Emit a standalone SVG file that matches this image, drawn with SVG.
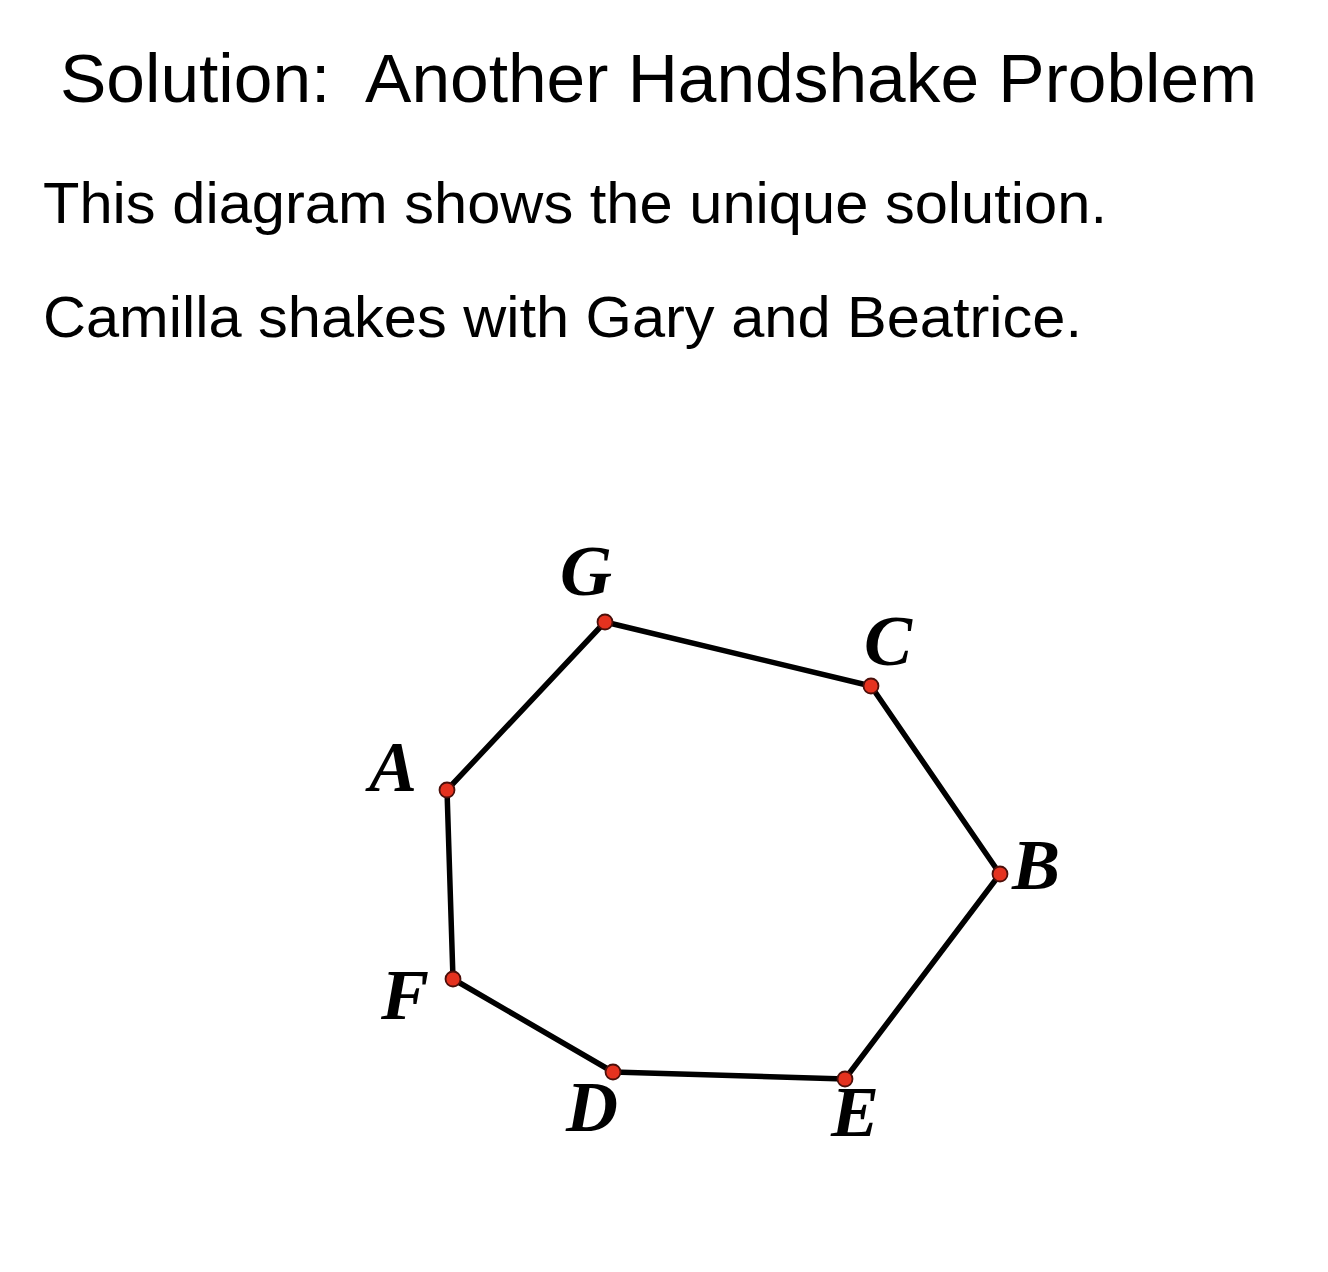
<svg xmlns="http://www.w3.org/2000/svg" width="1328" height="1272" viewBox="0 0 1328 1272">
<style>
.t{font-family:"Liberation Sans",Arial,sans-serif;fill:#000;white-space:pre}
.lbl{font-family:"Liberation Serif","Times New Roman",serif;font-weight:bold;font-style:italic;font-size:72px;fill:#000}
.edge{stroke:#000;stroke-width:5.5;stroke-linecap:round;fill:none}
.pt{fill:#e5321f;stroke:#4a0f0a;stroke-width:1.8}
</style>
<rect width="1328" height="1272" fill="#fff"/>
<text class="t" x="60" y="102" font-size="69" textLength="1197" lengthAdjust="spacingAndGlyphs" xml:space="preserve">Solution:  Another Handshake Problem</text>
<text class="t" x="43" y="223" font-size="57" textLength="1064" lengthAdjust="spacingAndGlyphs">This diagram shows the unique solution.</text>
<text class="t" x="43" y="337" font-size="57" textLength="1039" lengthAdjust="spacingAndGlyphs">Camilla shakes with Gary and Beatrice.</text>
<g id="connectors">
<line class="edge" x1="605" y1="622" x2="871" y2="686"/>
<line class="edge" x1="871" y1="686" x2="1000" y2="874"/>
<line class="edge" x1="1000" y1="874" x2="845" y2="1079"/>
<line class="edge" x1="845" y1="1079" x2="613" y2="1072"/>
<line class="edge" x1="613" y1="1072" x2="453" y2="979"/>
<line class="edge" x1="453" y1="979" x2="447" y2="790"/>
<line class="edge" x1="447" y1="790" x2="605" y2="622"/>
</g>
<g id="node-G"><circle class="pt" cx="605" cy="622" r="7.5"/><text class="lbl" x="560" y="595">G</text></g>
<g id="node-C"><circle class="pt" cx="871" cy="686" r="7.5"/><text class="lbl" x="864" y="665">C</text></g>
<g id="node-B"><circle class="pt" cx="1000" cy="874" r="7.5"/><text class="lbl" x="1012" y="889">B</text></g>
<g id="node-E"><circle class="pt" cx="845" cy="1079" r="7.5"/><text class="lbl" x="831" y="1136">E</text></g>
<g id="node-D"><circle class="pt" cx="613" cy="1072" r="7.5"/><text class="lbl" x="566" y="1131">D</text></g>
<g id="node-F"><circle class="pt" cx="453" cy="979" r="7.5"/><text class="lbl" x="381" y="1019">F</text></g>
<g id="node-A"><circle class="pt" cx="447" cy="790" r="7.5"/><text class="lbl" x="369" y="791">A</text></g>
</svg>
